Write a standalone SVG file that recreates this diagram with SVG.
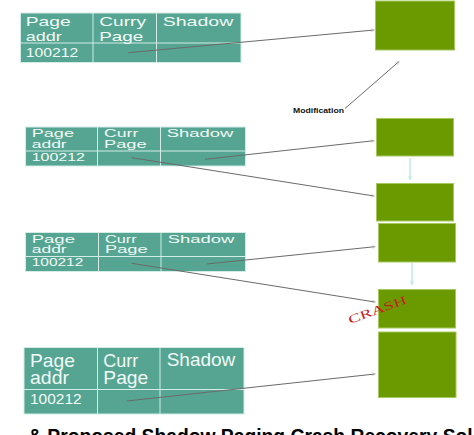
<svg xmlns="http://www.w3.org/2000/svg" width="474" height="435" viewBox="0 0 474 435">
<style>
.tbl{fill:#55a592;stroke:#d3ece5;stroke-width:1}
.grid{stroke:#d3ece5;stroke-width:1}
.tt{font-family:"Liberation Sans",Arial,sans-serif;fill:#f2faf7}
.box{fill:#6a9a00;stroke:#a6c95c;stroke-width:1}
.conn{stroke:#6a6a6a;stroke-width:1;fill:none}
.cy{stroke:#9fe2e0;stroke-width:1;fill:none}
</style>
<defs>
<marker id="ah" viewBox="0 0 6 6" refX="5" refY="3" markerWidth="4" markerHeight="4" orient="auto">
<path d="M0,0.5 L6,3 L0,5.5" fill="none" stroke="#c4c4c4" stroke-width="1"/>
</marker>
<marker id="ahc" viewBox="0 0 6 6" refX="5" refY="3" markerWidth="4" markerHeight="4" orient="auto">
<path d="M0,0.5 L6,3 L0,5.5" fill="none" stroke="#9fe2e0" stroke-width="1"/>
</marker>
</defs>
<rect width="474" height="435" fill="#ffffff"/>

<g id="table1">
<rect class="tbl" x="20.5" y="13" width="220.5" height="49.5"/>
<line class="grid" x1="93" y1="13" x2="93" y2="62.5"/>
<line class="grid" x1="156.5" y1="13" x2="156.5" y2="62.5"/>
<line class="grid" x1="20.5" y1="43" x2="241" y2="43"/>
<g class="tt" font-size="13">
<text x="25.7" y="26" textLength="45" lengthAdjust="spacingAndGlyphs">Page</text>
<text x="25.7" y="40.7" textLength="36" lengthAdjust="spacingAndGlyphs">addr</text>
<text x="99.3" y="26" textLength="46.7" lengthAdjust="spacingAndGlyphs">Curry</text>
<text x="99.3" y="40.7" textLength="44" lengthAdjust="spacingAndGlyphs">Page</text>
<text x="162.7" y="26" textLength="70.6" lengthAdjust="spacingAndGlyphs">Shadow</text>
<text x="25.7" y="56.7" textLength="52.6" lengthAdjust="spacingAndGlyphs">100212</text>
</g>
</g>

<g id="table2">
<rect class="tbl" x="25.5" y="127" width="220" height="39"/>
<line class="grid" x1="97.5" y1="127" x2="97.5" y2="166"/>
<line class="grid" x1="160.5" y1="127" x2="160.5" y2="166"/>
<line class="grid" x1="25.5" y1="151" x2="245.5" y2="151"/>
<g class="tt" font-size="10.5">
<text x="31.7" y="137" textLength="42.3" lengthAdjust="spacingAndGlyphs">Page</text>
<text x="31.7" y="147.5" textLength="35" lengthAdjust="spacingAndGlyphs">addr</text>
<text x="104" y="137" textLength="34.3" lengthAdjust="spacingAndGlyphs">Curr</text>
<text x="104" y="147.5" textLength="42.7" lengthAdjust="spacingAndGlyphs">Page</text>
<text x="166.7" y="137" textLength="66.6" lengthAdjust="spacingAndGlyphs">Shadow</text>
<text x="31.7" y="160.5" textLength="53.3" lengthAdjust="spacingAndGlyphs">100212</text>
</g>
</g>

<g id="table3">
<rect class="tbl" x="25.5" y="232.5" width="220" height="39"/>
<line class="grid" x1="98.5" y1="232.5" x2="98.5" y2="271.5"/>
<line class="grid" x1="161" y1="232.5" x2="161" y2="271.5"/>
<line class="grid" x1="25.5" y1="256.5" x2="245.5" y2="256.5"/>
<g class="tt" font-size="10.5">
<text x="31.7" y="242.7" textLength="43.3" lengthAdjust="spacingAndGlyphs">Page</text>
<text x="31.7" y="252.5" textLength="35" lengthAdjust="spacingAndGlyphs">addr</text>
<text x="105" y="242.7" textLength="31.7" lengthAdjust="spacingAndGlyphs">Curr</text>
<text x="105" y="252.5" textLength="42.7" lengthAdjust="spacingAndGlyphs">Page</text>
<text x="167.7" y="242.7" textLength="66.6" lengthAdjust="spacingAndGlyphs">Shadow</text>
<text x="31.7" y="265.7" textLength="51.6" lengthAdjust="spacingAndGlyphs">100212</text>
</g>
</g>

<g id="table4">
<rect class="tbl" x="24" y="347.5" width="220" height="66.5"/>
<line class="grid" x1="97.5" y1="347.5" x2="97.5" y2="414"/>
<line class="grid" x1="160" y1="347.5" x2="160" y2="414"/>
<line class="grid" x1="24" y1="389.5" x2="244" y2="389.5"/>
<g class="tt" font-size="18.5">
<text x="30" y="367" textLength="45" lengthAdjust="spacingAndGlyphs">Page</text>
<text x="30" y="383.5" textLength="39" lengthAdjust="spacingAndGlyphs">addr</text>
<text x="103.3" y="367" textLength="35" lengthAdjust="spacingAndGlyphs">Curr</text>
<text x="103.3" y="383.5" textLength="45" lengthAdjust="spacingAndGlyphs">Page</text>
<text x="166.7" y="365.5" textLength="68.6" lengthAdjust="spacingAndGlyphs">Shadow</text>
<text x="30" y="404" font-size="15" textLength="51.7" lengthAdjust="spacingAndGlyphs">100212</text>
</g>
</g>

<g id="box1"><rect class="box" x="375.5" y="1" width="79" height="49"/></g>
<g id="box2"><rect class="box" x="376.5" y="118.5" width="77" height="37.5"/></g>
<g id="box3"><rect class="box" x="376.5" y="183.5" width="77" height="37.5"/></g>
<g id="box4"><rect class="box" x="378.5" y="223.5" width="77" height="38.5"/></g>
<g id="box5"><rect class="box" x="378.5" y="289.5" width="77" height="38.5"/></g>
<g id="box6"><rect class="box" x="378.5" y="332" width="77.5" height="65.5"/></g>

<g id="connectors">
<line class="conn" x1="128.3" y1="52.7" x2="374" y2="30" marker-end="url(#ah)"/>
<line class="conn" x1="345" y1="108.5" x2="399" y2="61.5" marker-end="url(#ah)"/>
<line class="conn" x1="205" y1="159.3" x2="374" y2="140.7" marker-end="url(#ah)"/>
<line class="conn" x1="131.7" y1="157.7" x2="374" y2="196" marker-end="url(#ah)"/>
<line class="cy" x1="410" y1="158" x2="410" y2="179" marker-end="url(#ahc)"/>
<line class="conn" x1="206.7" y1="264" x2="375" y2="246.7" marker-end="url(#ah)"/>
<line class="conn" x1="131.7" y1="263.3" x2="375" y2="302" marker-end="url(#ah)"/>
<line class="cy" x1="412" y1="263" x2="412" y2="284" stroke="#6fdccf" marker-end="url(#ahc)"/>
<line class="conn" x1="126.7" y1="401" x2="375" y2="374" marker-end="url(#ah)"/>
</g>

<text x="293" y="112.5" font-family="'Liberation Sans',Arial,sans-serif" font-weight="bold" font-size="8" textLength="51" lengthAdjust="spacingAndGlyphs" fill="#111">Modification</text>
<text x="0" y="0" transform="translate(350,324) rotate(-20)" font-family="'Liberation Serif','Times New Roman',serif" font-size="12" textLength="61" lengthAdjust="spacingAndGlyphs" fill="#c41e1e">CRASH</text>
<text x="28" y="443" font-family="'Liberation Sans',Arial,sans-serif" font-weight="bold" font-size="19.3" fill="#000">&amp; Proposed Shadow Paging Crash Recovery Sol</text>
</svg>
